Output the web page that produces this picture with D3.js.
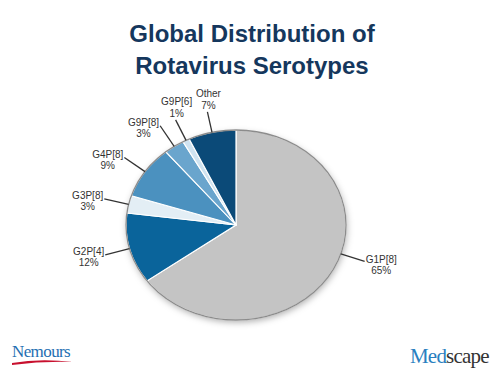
<!DOCTYPE html>
<html>
<head>
<meta charset="utf-8">
<script src="https://cdn.jsdelivr.net/npm/d3@7"></script>
<style>
  html, body { margin: 0; padding: 0; background: #fff; }
  svg { display: block; }
</style>
</head>
<body>
<svg id="chart" width="500" height="375"></svg>
<script>
// ---- data ----
const categories = ["G1P[8]", "G2P[4]", "G3P[8]", "G4P[8]", "G9P[8]", "G9P[6]", "Other"];
const values = [65, 12, 3, 9, 3, 1, 7];
const colors = ["#c4c4c4", "#0a649b", "#e3eef5", "#4b91bf", "#6aa5cd", "#cfe3f1", "#0b4a78"];
const titleLines = ["Global Distribution of", "Rotavirus Serotypes"];

// ---- layout ----
const W = 500, H = 375;
const cx = 236, cy = 225, rx = 110, ry = 95;
const leaderLen = { default: 25, "Other": 21, "G9P[6]": 23 };
const anchorFrac = { default: 0.5, "G1P[8]": 0.46 };

const svg = d3.select("#chart");

// shadow filter
const defs = svg.append("defs");
const f = defs.append("filter").attr("id", "shadow")
  .attr("x", "-20%").attr("y", "-20%").attr("width", "140%").attr("height", "140%");
f.append("feDropShadow").attr("dx", 1).attr("dy", 3).attr("stdDeviation", 3.5)
  .attr("flood-color", "#000").attr("flood-opacity", 0.3);

// title
svg.append("g").selectAll("text").data(titleLines).join("text")
  .attr("x", 252).attr("y", (d, i) => 42 + i * 32)
  .attr("text-anchor", "middle")
  .attr("font-family", "Liberation Sans, Arial, sans-serif")
  .attr("font-weight", "bold")
  .attr("font-size", 24)
  .attr("fill", "#15375d")
  .text(d => d);

// pie
const data = categories.map((c, i) => ({ name: c, value: values[i], color: colors[i] }));
const pie = d3.pie().value(d => d.value).sort(null);
const arcs = pie(data);
const arc = d3.arc().innerRadius(0).outerRadius(rx);

const pieG = svg.append("g")
  .attr("transform", `translate(${cx},${cy}) scale(1,${ry / rx})`);

pieG.append("ellipse").attr("rx", rx).attr("ry", rx)
  .attr("fill", "#c4c4c4").attr("filter", "url(#shadow)");

pieG.selectAll("path.slice").data(arcs).join("path")
  .attr("class", "slice")
  .attr("d", arc)
  .attr("fill", d => d.data.color)
  .attr("stroke", "#fff")
  .attr("stroke-width", 1.2)
  .attr("stroke-linejoin", "round");

pieG.append("ellipse").attr("rx", rx).attr("ry", rx)
  .attr("fill", "none").attr("stroke", "#8c8c8c").attr("stroke-width", 1.3)
  .attr("vector-effect", "non-scaling-stroke");

// labels with leader lines
const labelG = svg.append("g")
  .attr("font-family", "Liberation Sans, Arial, sans-serif")
  .attr("font-size", 10)
  .attr("fill", "#333");

arcs.forEach(a => {
  const name = a.data.name;
  const fr = anchorFrac[name] ?? anchorFrac.default;
  const th = a.startAngle + (a.endAngle - a.startAngle) * fr;
  const s = Math.sin(th), c = Math.cos(th);
  const x0 = cx + rx * s, y0 = cy - ry * c;
  const L = leaderLen[name] ?? leaderLen.default;
  const x1 = x0 + L * s, y1 = y0 - L * c;

  labelG.append("line")
    .attr("x1", x0).attr("y1", y0).attr("x2", x1).attr("y2", y1)
    .attr("stroke", "#333").attr("stroke-width", 1.3);

  const pct = a.data.value + "%";
  if (Math.abs(s) < 0.5) {
    // top labels: centred above leader end
    labelG.append("text").attr("x", x1 + 1).attr("y", y1 - 15)
      .attr("text-anchor", "middle").text(name);
    labelG.append("text").attr("x", x1 + 1).attr("y", y1 - 3)
      .attr("text-anchor", "middle").text(pct);
  } else if (s < 0) {
    const t = labelG.append("text").attr("x", x1 - 1).attr("y", y1 + 0.5)
      .attr("text-anchor", "end").text(name);
    const w = t.node().getComputedTextLength();
    labelG.append("text").attr("x", x1 - 1 - w / 2).attr("y", y1 + 11.5)
      .attr("text-anchor", "middle").text(pct);
  } else {
    const t = labelG.append("text").attr("x", x1 + 1).attr("y", y1 + 1.5)
      .attr("text-anchor", "start").text(name);
    const w = t.node().getComputedTextLength();
    labelG.append("text").attr("x", x1 + 1 + w / 2).attr("y", y1 + 12.5)
      .attr("text-anchor", "middle").text(pct);
  }
});

// logos
svg.append("text").attr("x", 12).attr("y", 357)
  .attr("font-family", "Liberation Serif, Times New Roman, serif")
  .attr("font-size", 17).attr("fill", "#1f6fb2").attr("letter-spacing", -0.6)
  .text("Nemours");
svg.append("path")
  .attr("d", "M12,363 Q40,358 73,362 Q42,361 12,365 Z")
  .attr("fill", "#c8102e");

const med = svg.append("text").attr("x", 410).attr("y", 363)
  .attr("font-family", "Liberation Serif, Times New Roman, serif")
  .attr("font-size", 21).attr("letter-spacing", -0.8);
med.append("tspan").attr("fill", "#2a7fc0").text("Med");
med.append("tspan").attr("fill", "#333").text("scape");
</script>
</body>
</html>
